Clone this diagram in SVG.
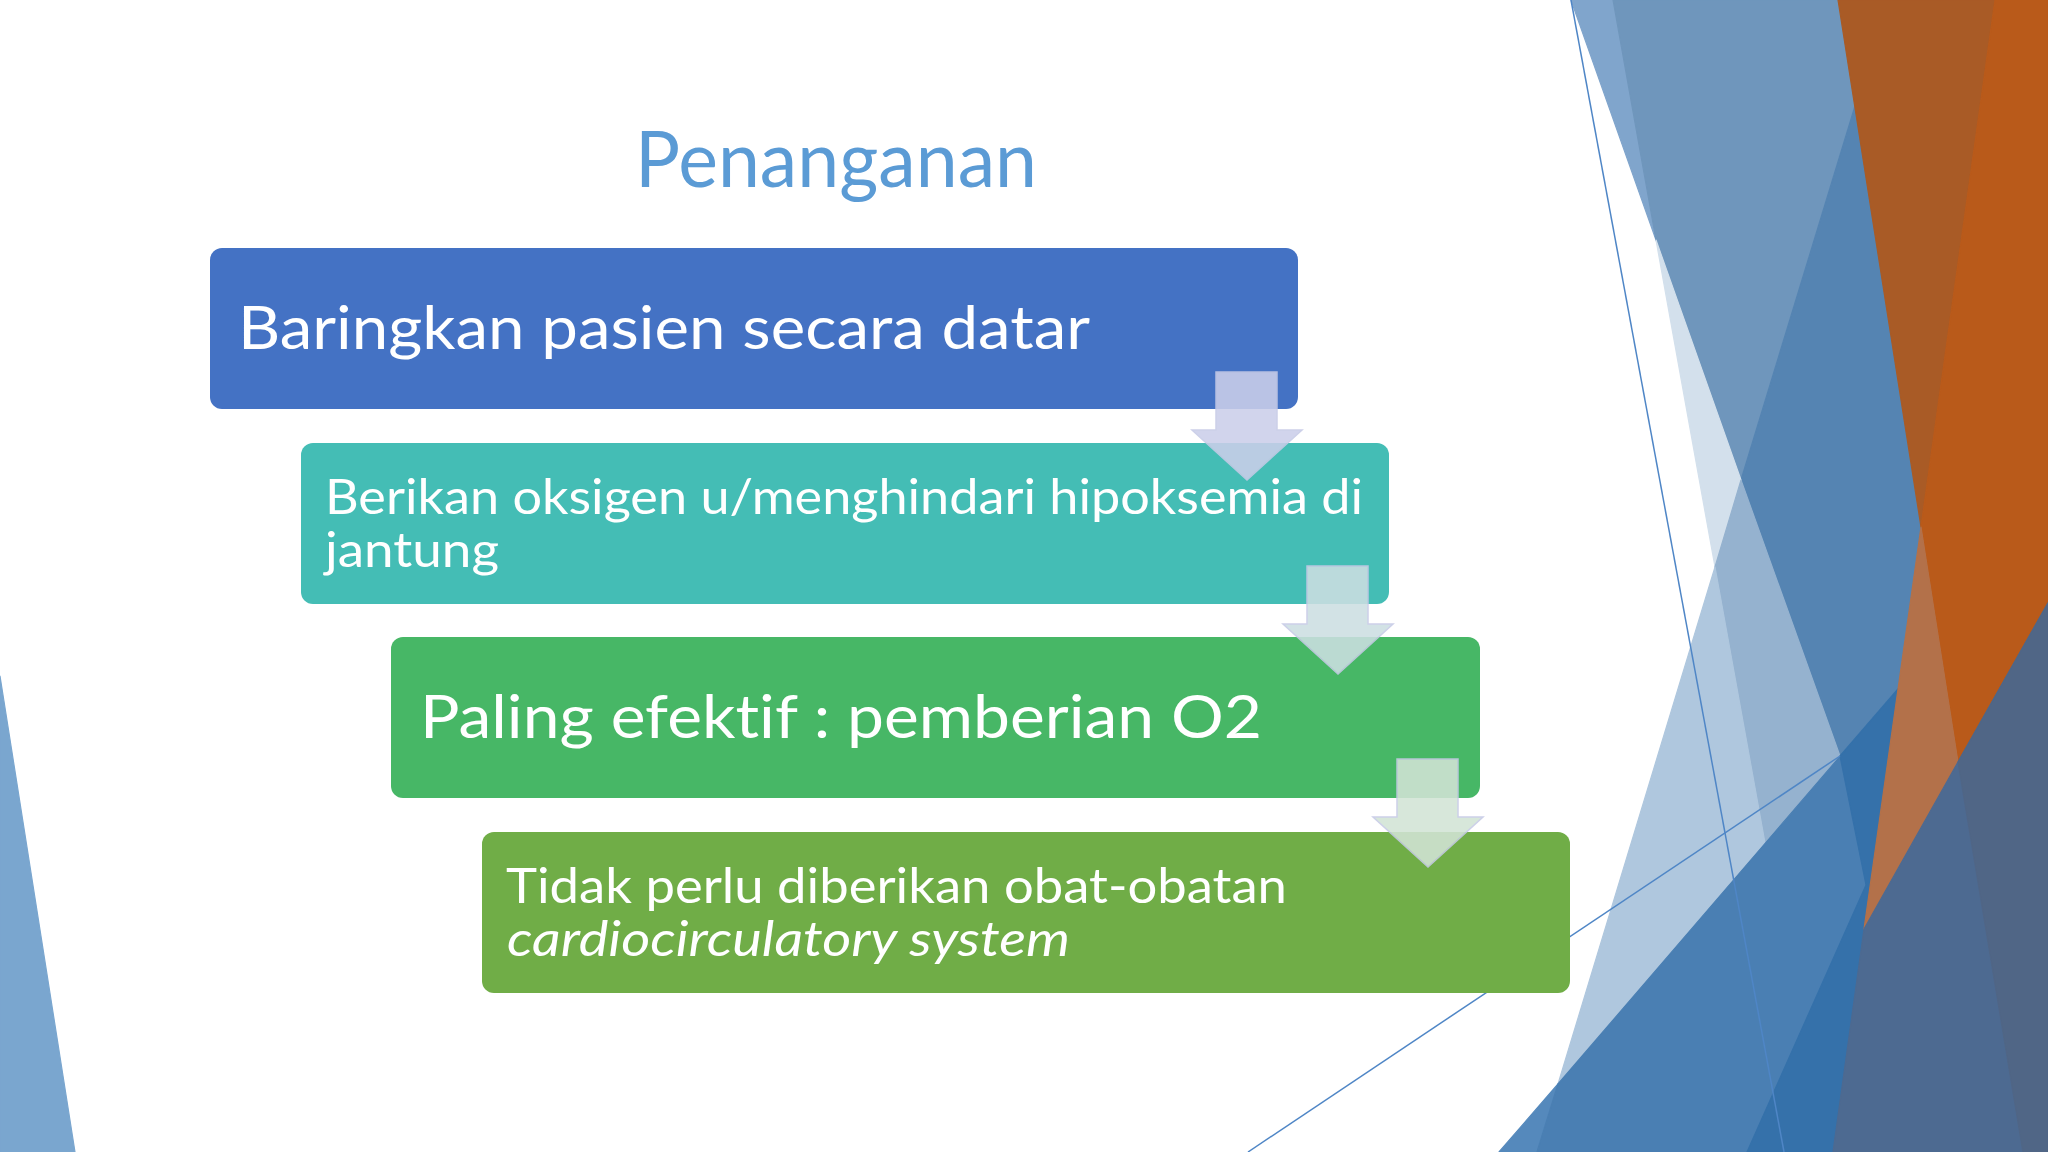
<svg xmlns="http://www.w3.org/2000/svg" width="2048" height="1152" viewBox="0 0 2048 1152">
<style>
text{font-variant-ligatures:none}
.title{font-family:Lato,"Noto Sans",sans-serif;font-size:77px;fill:#5B9BD5}
.big{font-family:Lato,"Noto Sans",sans-serif;font-size:60px;fill:#FFFFFF}
.small{font-family:Lato,"Noto Sans",sans-serif;font-size:49px;fill:#FFFFFF}
.it{font-style:italic}
.deco-line{stroke:#4F86C6;stroke-width:1.5;fill:none}
.arrow{opacity:0.88;stroke:#C6CAE6;stroke-width:1.5}
#decoration polygon{stroke-width:1.2;stroke-linejoin:round}
</style>
<defs>
<path id="arrowShape" d="M1216,372 H1277 V430 H1302 L1247,480 L1192,430 H1216 Z"/>
</defs>
<rect x="0" y="0" width="2048" height="1152" fill="#FFFFFF"/>
<g id="decoration">
<polygon points="0,676 75,1152 0,1152" fill="#7AA6CF" stroke="#7AA6CF"/>
<polygon points="1571,0 1613,0 1656,240" fill="#80A5CC" stroke="#80A5CC"/>
<polygon points="1613,0 1838,0 1855,106 1741,480 1656,240" fill="#6F96BC" stroke="#6F96BC"/>
<polygon points="1855,106 1921,527 1898,689 1840,756 1741,480" fill="#5584B2" stroke="#5584B2"/>
<polygon points="1656,240 1741,480 1715,567" fill="#D3E0EC" stroke="#D3E0EC"/>
<polygon points="1741,480 1840,756 1765,843 1715,567" fill="#95B2CF" stroke="#95B2CF"/>
<polygon points="1715,567 1765,843 1558,1084" fill="#AFC7DE" stroke="#AFC7DE"/>
<polygon points="1499,1152 1558,1084 1537,1152" fill="#5589BC" stroke="#5589BC"/>
<polygon points="1537,1152 1558,1084 1898,689 1833,1152" fill="#4A7FB3" stroke="#4A7FB3"/>
<polygon points="1840,756 1898,689 1833,1152 1747,1152 1866,885" fill="#3571AA" stroke="#3571AA"/>
<polygon points="1838,0 1995,0 1921,527" fill="#A95B26" stroke="#A95B26"/>
<polygon points="1995,0 2048,0 2048,603 1958,762 1921,527" fill="#B95A1A" stroke="#B95A1A"/>
<polygon points="1921,527 1958,762 1864,929" fill="#B3714A" stroke="#B3714A"/>
<polygon points="2048,603 1958,762 1864,929 1833,1152 2048,1152" fill="#4D6A91" stroke="#4D6A91"/>
<polygon points="1958,762 2048,603 2048,1152 2023,1152" fill="#506686" stroke="#506686"/>
<line class="deco-line" x1="1571" y1="0" x2="1784" y2="1152"/>
<line class="deco-line" x1="1248" y1="1152" x2="1840" y2="756"/>
</g>
<g id="title">
<text class="title" x="635" y="187" textLength="402" lengthAdjust="spacingAndGlyphs">Penanganan</text>
</g>
<g id="node1">
<rect x="210" y="248" width="1088" height="161" rx="12" fill="#4472C4"/>
<text class="big" x="238" y="349" textLength="852" lengthAdjust="spacingAndGlyphs">Baringkan pasien secara datar</text>
</g>
<g id="node2">
<rect x="301" y="443" width="1088" height="161" rx="12" fill="#44BDB5"/>
<text class="small" x="325" y="514" textLength="1038" lengthAdjust="spacingAndGlyphs">Berikan oksigen u/menghindari hipoksemia di</text>
<text class="small" x="325" y="567" textLength="174" lengthAdjust="spacingAndGlyphs">jantung</text>
</g>
<g id="node3">
<rect x="391" y="637" width="1089" height="161" rx="12" fill="#47B766"/>
<text class="big" x="420" y="738" textLength="842" lengthAdjust="spacingAndGlyphs">Paling efektif : pemberian O2</text>
</g>
<g id="node4">
<rect x="482" y="832" width="1088" height="161" rx="12" fill="#70AD47"/>
<text class="small" x="506" y="903" textLength="781" lengthAdjust="spacingAndGlyphs">Tidak perlu diberikan obat-obatan</text>
<text class="small it" x="507" y="956" textLength="563" lengthAdjust="spacingAndGlyphs">cardiocirculatory system</text>
</g>
<g id="connectors">
<use href="#arrowShape" class="arrow" fill="#CBCFEA"/>
<use href="#arrowShape" class="arrow" fill="#CCDFE2" transform="translate(91,194)"/>
<use href="#arrowShape" class="arrow" fill="#D2E4D6" transform="translate(181,387)"/>
</g>
</svg>
